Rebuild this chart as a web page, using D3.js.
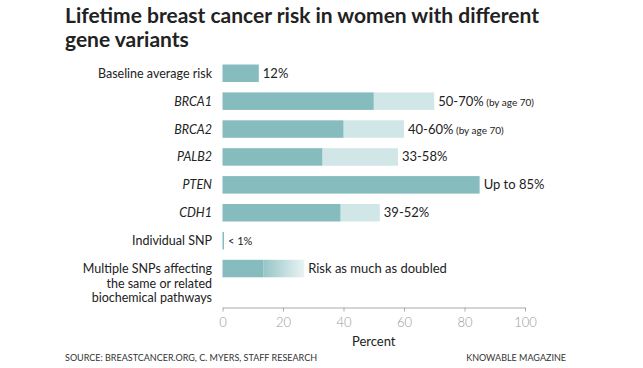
<!DOCTYPE html>
<html>
<head>
<script src="https://d3js.org/d3.v7.min.js"></script>
<style>
  body { margin: 0; background: #fff; font-family: Lato, sans-serif; }
  #chart { display: block; }
</style>
</head>
<body>
<svg id="chart"></svg>
<script>
const width = 643, height = 368;

const categories = ["Baseline average risk", "BRCA1", "BRCA2", "PALB2", "PTEN", "CDH1",
                    "Individual SNP", "Multiple SNPs affecting|the same or related|biochemical pathways"];
const italicLabel = [false, true, true, true, true, true, false, false];
const lowValues = [12, 50, 40, 33, 85, 39, 0.5, 13.5];
const highValues = [null, 70, 60, 58, null, 52, null, 27];
const valueLabels = ["12%", "50-70%", "40-60%", "33-58%", "Up to 85%", "39-52%", "< 1%", "Risk as much as doubled"];
const valueNotes = ["", "(by age 70)", "(by age 70)", "", "", "", "", ""];
const xTicks = [0, 20, 40, 60, 80, 100];

const dark = "#86bcbd", light = "#d1e6e6";

const svg = d3.select("#chart").attr("width", width).attr("height", height);

const x = d3.scaleLinear().domain([0, 100]).range([222.5, 525]);
const y = d3.scaleBand()
    .domain(categories)
    .range([59.3, 282.5])
    .paddingInner(0.373)
    .paddingOuter(0.1865);

// gradient for the last bar
const grad = svg.append("defs").append("linearGradient")
    .attr("id", "fade").attr("x1", "0%").attr("x2", "100%");
grad.append("stop").attr("offset", "0%").attr("stop-color", "#97c5c6");
grad.append("stop").attr("offset", "100%").attr("stop-color", "#e9f3f3");

// title
svg.append("text")
    .attr("x", 65).attr("y", 23)
    .style("font-size", "21px").style("font-weight", "bold").attr("fill", "#222")
    .selectAll("tspan")
    .data(["Lifetime breast cancer risk in women with different", "gene variants"])
    .join("tspan")
    .attr("x", 65)
    .attr("dy", (d, i) => i ? 24 : 0)
    .text(d => d);

const rows = categories.map((c, i) => ({
    cat: c, italic: italicLabel[i], lo: lowValues[i], hi: highValues[i],
    label: valueLabels[i], note: valueNotes[i], last: i === categories.length - 1
}));

// light (range) bars
svg.selectAll("rect.hi")
    .data(rows.filter(d => d.hi != null))
    .join("rect")
    .attr("class", "hi")
    .attr("x", d => x(d.lo))
    .attr("y", d => y(d.cat))
    .attr("width", d => x(d.hi) - x(d.lo))
    .attr("height", y.bandwidth())
    .attr("fill", d => d.last ? "url(#fade)" : light);

// dark bars
svg.selectAll("rect.lo")
    .data(rows)
    .join("rect")
    .attr("class", "lo")
    .attr("x", x(0))
    .attr("y", d => y(d.cat))
    .attr("width", d => x(d.lo) - x(0))
    .attr("height", y.bandwidth())
    .attr("fill", dark);

// category labels
const catText = svg.selectAll("text.cat")
    .data(rows)
    .join("text")
    .attr("class", "cat")
    .attr("text-anchor", "end")
    .attr("y", d => y(d.cat) + y.bandwidth() / 2 + 4.5)
    .attr("fill", "#222")
    .style("font-size", "12.5px")
    .style("font-style", d => d.italic ? "italic" : "normal");
catText.selectAll("tspan")
    .data(d => d.cat.split("|"))
    .join("tspan")
    .attr("x", 212)
    .attr("dy", (d, i) => i ? 14.5 : 0)
    .text(d => d);

// value labels
const valText = svg.selectAll("text.val")
    .data(rows)
    .join("text")
    .attr("class", "val")
    .attr("x", d => x(d.hi != null ? d.hi : d.lo) + 4)
    .attr("y", d => y(d.cat) + y.bandwidth() / 2 + 4.5)
    .attr("fill", "#222")
    .style("font-size", d => d.label.startsWith("<") ? "11px" : "13px");
valText.append("tspan").text(d => d.label);
valText.append("tspan")
    .style("font-size", "10px")
    .text(d => d.note ? " " + d.note : "");

// x axis
const axis = svg.append("g")
    .attr("transform", "translate(0,307.5)")
    .call(d3.axisBottom(x).tickValues(xTicks).tickSize(4).tickPadding(6).tickSizeOuter(0));
axis.select(".domain").attr("stroke", "#aaa");
axis.selectAll(".tick line").attr("stroke", "#aaa");
axis.selectAll(".tick text")
    .attr("fill", "#999")
    .style("font-size", "13px")
    .style("font-weight", "300")
    .style("font-family", "Lato, sans-serif");

svg.append("text")
    .attr("x", x(50)).attr("y", 346)
    .attr("text-anchor", "middle")
    .attr("fill", "#222")
    .style("font-size", "13px")
    .text("Percent");

// footer
svg.append("text")
    .attr("x", 65).attr("y", 361)
    .attr("fill", "#333")
    .style("font-size", "9px")
    .text("SOURCE: BREASTCANCER.ORG, C. MYERS, STAFF RESEARCH");
svg.append("text")
    .attr("x", 566).attr("y", 361)
    .attr("text-anchor", "end")
    .attr("fill", "#333")
    .style("font-size", "9px")
    .text("KNOWABLE MAGAZINE");
</script>
</body>
</html>
